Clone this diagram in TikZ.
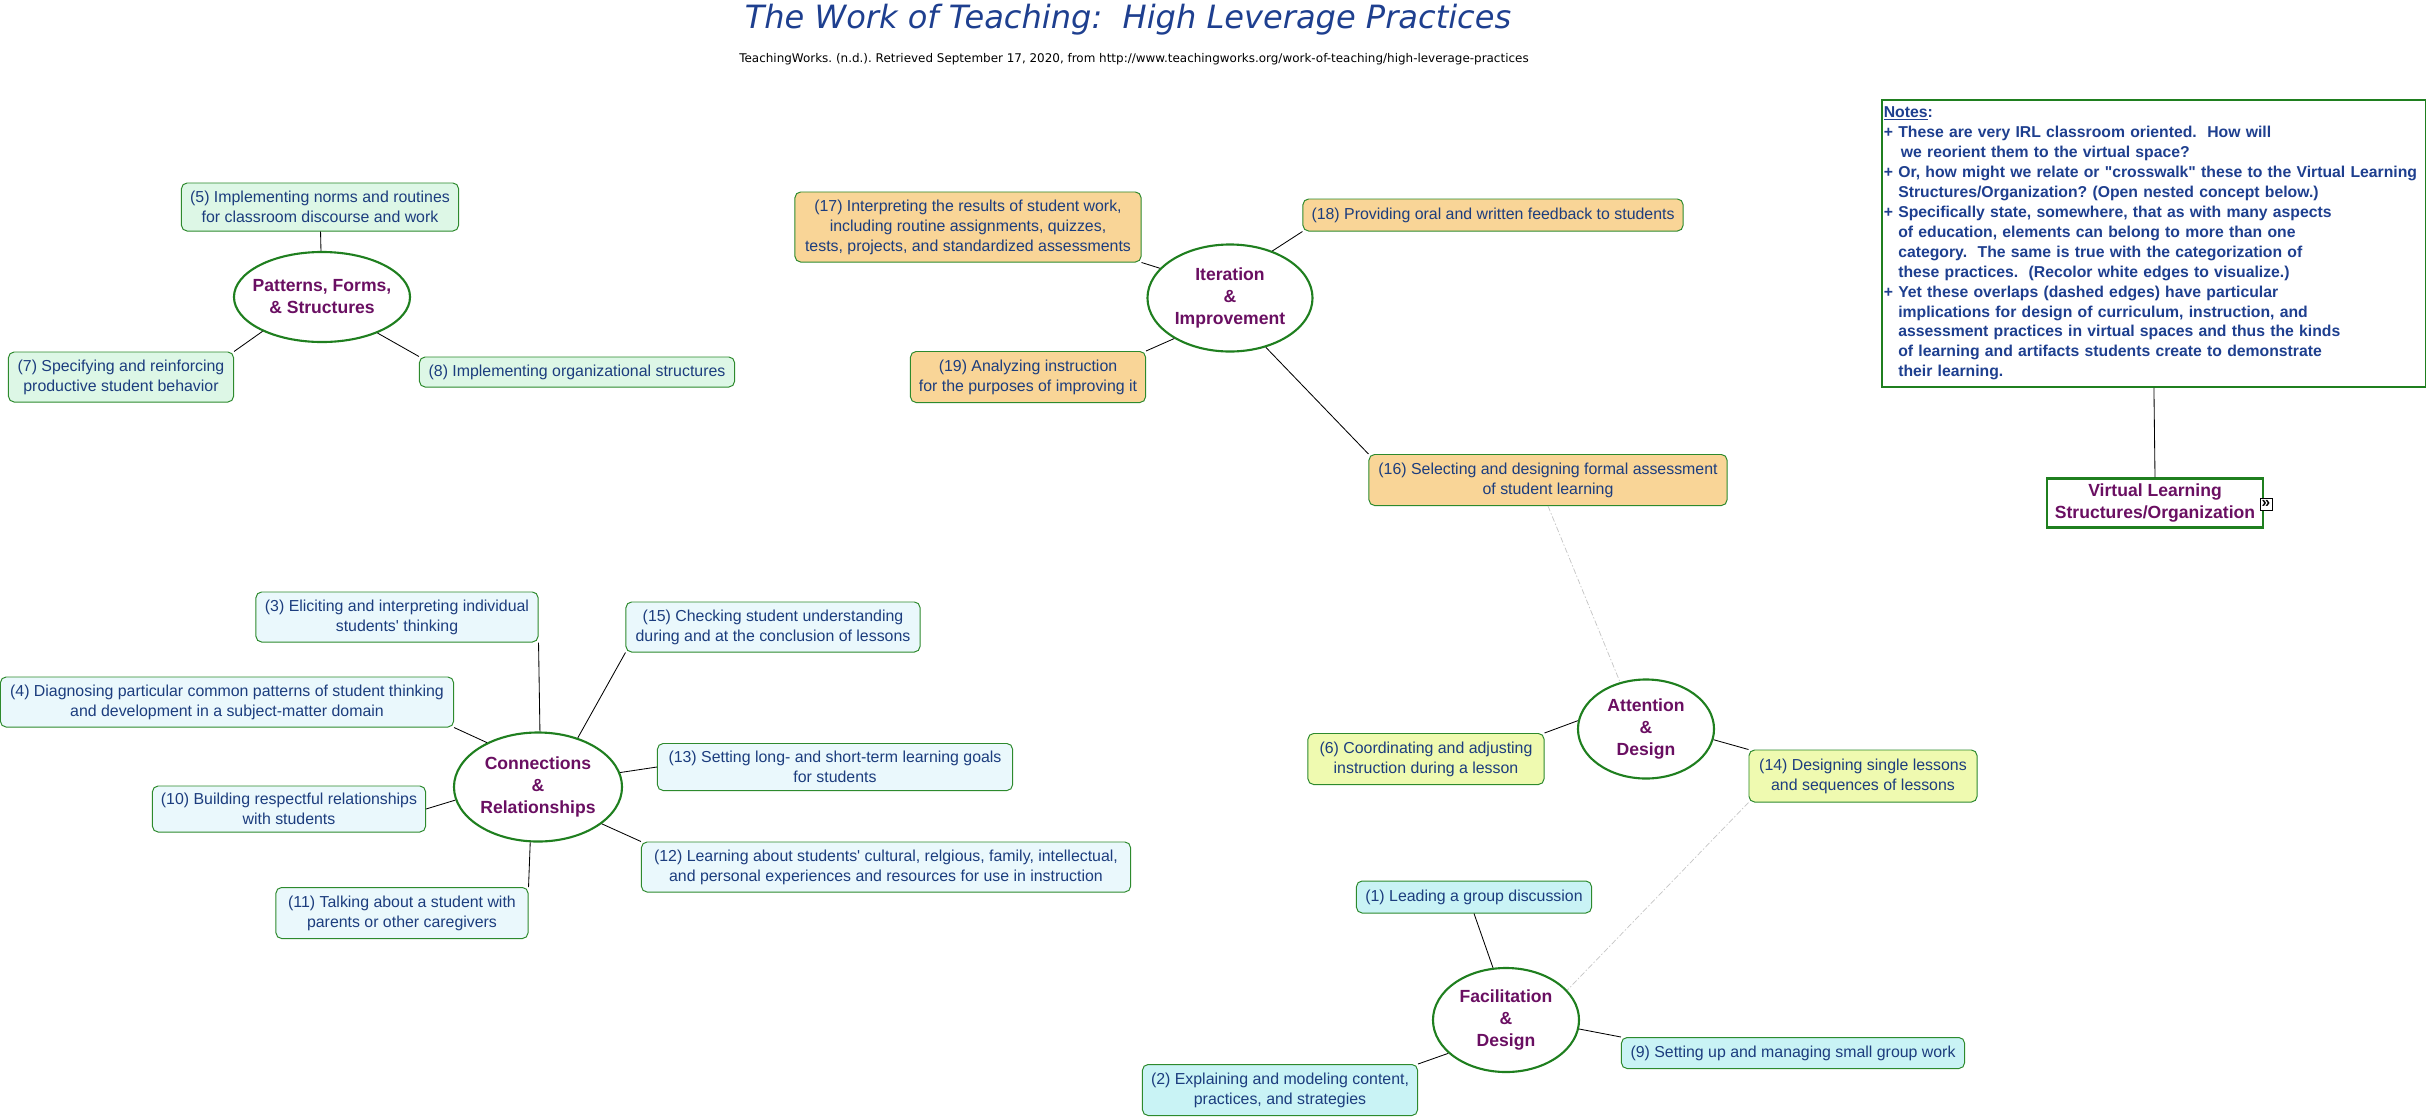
\documentclass[tikz,border=0pt]{standalone}
\usepackage{fontspec}
\setmainfont{Liberation Sans}
\newfontfamily\headfont{DejaVu Sans}
\usetikzlibrary{shapes.geometric}
\definecolor{navy}     {HTML}{1C3D7E}
\definecolor{titleblue}{HTML}{1E3F8F}
\definecolor{plum}     {HTML}{6A0F62}
\definecolor{boxline}  {HTML}{2D8A2D}
\definecolor{hubline}  {HTML}{1F7F1F}
\definecolor{edgegray} {HTML}{C4C4C4}
\definecolor{mint}     {HTML}{DDF7E6}
\definecolor{peach}    {HTML}{F9D597}
\definecolor{lime}     {HTML}{EFFAB0}
\definecolor{aqua}     {HTML}{C9F3F5}
\definecolor{ice}      {HTML}{EAF8FC}
\newcommand{\notegap}{\hphantom{+\ }}
\frenchspacing
\hyphenpenalty=10000

\tikzset{
  practice/.style={draw=boxline,line width=0.7pt,rounded corners=4pt,align=center,
                   text=navy,font=\fontsize{11.3}{14.2}\selectfont,inner sep=2pt},
  hub/.style={ellipse,draw=hubline,line width=1.5pt,fill=white,align=center,
              text=plum,font=\bfseries\fontsize{12.5}{15.6}\selectfont,inner sep=0pt},
  link/.style={draw=black,line width=0.6pt},
  overlap/.style={draw=edgegray,line width=0.5pt,dash pattern=on 4pt off 1.5pt on 1pt off 1.5pt},
}

\begin{document}
\begin{tikzpicture}[x=0.025cm,y=-0.025cm]
  \useasboundingbox (0,0) rectangle (2426,1119);

  % heading
  \node[font=\headfont\itshape\fontsize{22.8}{27}\selectfont,text=titleblue] (title) at (1128,20)
    {The Work of Teaching:\ \ High Leverage Practices};
  \node[font=\headfont\fontsize{8.5}{10}\selectfont] (cite) at (1134,59)
    {TeachingWorks. (n.d.). Retrieved September 17, 2020, from http://www.teachingworks.org/work-of-teaching/high-leverage-practices};

  % patterns, forms, structures
  \node[hub,inner xsep=-9pt,minimum width=4.4cm,minimum height=2.25cm] (pat) at (322,297) {Patterns, Forms,\\\& Structures};
  \node[practice,fill=mint,minimum width=6.925cm,minimum height=1.2cm] (p5) at (320,207)
    {(5) Implementing norms and routines\\for classroom discourse and work};
  \node[practice,fill=mint,minimum width=5.625cm,minimum height=1.25cm] (p7) at (121,377)
    {(7) Specifying and reinforcing\\productive student behavior};
  \node[practice,fill=mint,minimum width=7.875cm,minimum height=0.75cm] (p8) at (577,372)
    {(8) Implementing organizational structures};

  % iteration
  \node[hub,minimum width=4.125cm,minimum height=2.675cm] (it) at (1230,298) {Iteration\\\&\\Improvement};
  \node[practice,fill=peach,minimum width=8.65cm,minimum height=1.75cm] (p17) at (968,227)
    {(17) Interpreting the results of student work,\\including routine assignments, quizzes,\\tests, projects, and standardized assessments};
  \node[practice,fill=peach,minimum width=9.5cm,minimum height=0.8cm] (p18) at (1493,215)
    {(18) Providing oral and written feedback to students};
  \node[practice,fill=peach,minimum width=5.875cm,minimum height=1.275cm] (p19) at (1028,377)
    {(19) Analyzing instruction\\for the purposes of improving it};
  \node[practice,fill=peach,minimum width=8.95cm,minimum height=1.275cm] (p16) at (1548,480)
    {(16) Selecting and designing formal assessment\\of student learning};

  % attention
  \node[hub,minimum width=3.4cm,minimum height=2.475cm] (att) at (1646,729) {Attention\\\&\\Design};
  \node[practice,fill=lime,minimum width=5.9cm,minimum height=1.275cm] (p6) at (1426,759)
    {(6) Coordinating and adjusting\\instruction during a lesson};
  \node[practice,fill=lime,minimum width=5.7cm,minimum height=1.3cm] (p14) at (1863,776)
    {(14) Designing single lessons\\and sequences of lessons};

  % facilitation
  \node[hub,minimum width=3.65cm,minimum height=2.6cm] (fac) at (1506,1020) {Facilitation\\\&\\Design};
  \node[practice,fill=aqua,minimum width=5.875cm,minimum height=0.8cm] (p1) at (1474,897)
    {(1) Leading a group discussion};
  \node[practice,fill=aqua,minimum width=6.875cm,minimum height=1.275cm] (p2) at (1280,1090)
    {(2) Explaining and modeling content,\\practices, and strategies};
  \node[practice,fill=aqua,minimum width=8.575cm,minimum height=0.775cm] (p9) at (1793,1053)
    {(9) Setting up and managing small group work};

  % connections
  \node[hub,minimum width=4.2cm,minimum height=2.725cm] (con) at (538,787) {Connections\\\&\\Relationships};
  \node[practice,fill=ice,minimum width=7.05cm,minimum height=1.25cm] (p3) at (397,617)
    {(3) Eliciting and interpreting individual\\students\textquotesingle\ thinking};
  \node[practice,fill=ice,minimum width=11.325cm,minimum height=1.25cm] (p4) at (227,702)
    {(4) Diagnosing particular common patterns of student thinking\\and development in a subject-matter domain};
  \node[practice,fill=ice,minimum width=6.825cm,minimum height=1.15cm] (p10) at (289,809)
    {(10) Building respectful relationships\\with students};
  \node[practice,fill=ice,minimum width=6.3cm,minimum height=1.275cm] (p11) at (402,913)
    {(11) Talking about a student with\\parents or other caregivers};
  \node[practice,fill=ice,minimum width=7.35cm,minimum height=1.25cm] (p15) at (773,627)
    {(15) Checking student understanding\\during and at the conclusion of lessons};
  \node[practice,fill=ice,minimum width=8.875cm,minimum height=1.175cm] (p13) at (835,767)
    {(13) Setting long- and short-term learning goals\\for students};
  \node[practice,fill=ice,minimum width=12.225cm,minimum height=1.25cm] (p12) at (886,867)
    {(12) Learning about students\textquotesingle\ cultural, relgious, family, intellectual,\\and personal experiences and resources for use in instruction};

  % notes
  \node[draw=hubline,line width=1.2pt,fill=white,anchor=north west,align=left,
        text width=13.5cm,minimum height=7.175cm,inner xsep=0.05cm,text=titleblue,
        font=\bfseries\fontsize{11.2}{14.2}\selectfont] (notes) at (1881,99)
    {\underline{Notes}:\\
     + These are very IRL classroom oriented.\ \ How will\\
     \notegap\,we reorient them to the virtual space?\\
     + Or, how might we relate or \textquotedbl crosswalk\textquotedbl\ these to the Virtual Learning\\
     \notegap Structures/Organization? (Open nested concept below.)\\
     + Specifically state, somewhere, that as with many aspects\\
     \notegap of education, elements can belong to more than one\\
     \notegap category.\ \ The same is true with the categorization of\\
     \notegap these practices.\ \ (Recolor white edges to visualize.)\\
     + Yet these overlaps (dashed edges) have particular\\
     \notegap implications for design of curriculum, instruction, and\\
     \notegap assessment practices in virtual spaces and thus the kinds\\
     \notegap of learning and artifacts students create to demonstrate\\
     \notegap their learning.};
  \node[draw=hubline,line width=1.5pt,fill=white,align=center,text=plum,inner sep=1pt,
        font=\bfseries\fontsize{12.5}{15.6}\selectfont,minimum width=5.4cm,minimum height=1.225cm] (vl) at (2155,503)
    {Virtual Learning\\Structures/Organization};
  \node[draw=black,line width=0.5pt,fill=white,inner sep=0.5pt,minimum width=0.3cm,minimum height=0.3cm,
        font=\bfseries\fontsize{11}{11}\selectfont] (vlicon) at (2266,504) {»};

  \draw[link] (p5) -- (pat);
  \draw[link] (p7.north east) -- (pat.210);
  \draw[link] (pat.-33) -- (p8.north west);
  \draw[link] (p17.south east) -- (it.157);
  \draw[link] (it.48) -- (p18.south west);
  \draw[link] (p19.north east) -- (it.216);
  \draw[link] (it.-54) -- (p16.north west);
  \draw[link] (p6.north east) -- (att.173);
  \draw[link] (att.-9) -- (p14.north west);
  \draw[overlap] (p16.south) -- (att.119);
  \draw[overlap] (p14.south west) -- (fac.26);
  \draw[link] (p1.south) -- (fac.104);
  \draw[link] (fac.-7) -- (p9.north west);
  \draw[link] (p2.north east) -- (fac.210);
  \draw[link] (p3.south east) -- (con.88);
  \draw[link] (p4.south east) -- (con.139);
  \draw[link] (p10.east) -- (con.189);
  \draw[link] (con.262) -- (p11.north east);
  \draw[link] (con.51) -- (p15.south west);
  \draw[link] (con.10) -- (p13.west);
  \draw[link] (con.-30) -- (p12.north west);
  \draw[link] (notes.south) -- (vl.north);
\end{tikzpicture}
\end{document}
